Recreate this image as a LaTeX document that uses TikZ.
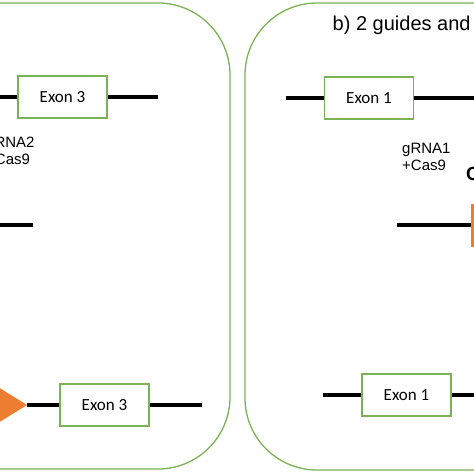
\documentclass[tikz,border=0pt]{standalone}
\usepackage{fontspec}
\setmainfont{Liberation Sans}
\newfontfamily\exonfont{Carlito}
\usetikzlibrary{shapes.geometric, arrows}
\definecolor{panelgreen}{RGB}{122,178,84}
\definecolor{siteorange}{RGB}{237,125,49}
\tikzstyle{panel} = [draw=panelgreen, line width=1.3pt, rounded corners=72pt]
\tikzstyle{exon} = [rectangle, minimum width=89pt, minimum height=42pt, text centered, draw=panelgreen, line width=1.4pt, fill=white, font=\exonfont\fontsize{17}{20}\selectfont]
\tikzstyle{dna} = [line width=4.5pt]
\tikzstyle{guide} = [align=left, anchor=north west, inner sep=0pt, font=\fontsize{15}{16.5}\selectfont]
\tikzstyle{site} = [fill=siteorange, draw=none]

\begin{document}
\begin{tikzpicture} [x=1pt, y=-1pt]
\clip (0,0) rectangle (474,474);
\fill [white] (0,0) rectangle (474,474);
\draw [panel] (-100,3) rectangle (230,469);
\draw [panel] (245,3) rectangle (580,470);

\node (title) [anchor=base west, inner sep=0pt, font=\fontsize{20}{24}\selectfont] at (332.5,30) {b) 2 guides and};

\node (ex3a) [exon] at (62.5,97) {Exon 3};
\node (ex3b) [exon] at (104.5,405) {Exon 3};
\node (ex1a) [exon] at (369,98) {Exon 1};
\node (ex1b) [exon] at (406.5,395) {Exon 1};
\node (g2) [guide] at (-14,137) {gRNA2\\+Cas9};
\node (g1) [guide] at (402,143) {gRNA1\\+Cas9};
\node (cut) [site, rectangle, minimum width=20pt, minimum height=43pt, anchor=west] at (471,225) {};
\node (c) [anchor=base west, inner sep=0pt, font=\bfseries\fontsize{19}{22}\selectfont] at (466,180) {C};

\coordinate (a1) at (-5,97);
\coordinate (a2) at (158,97);
\coordinate (m1) at (-5,225);
\coordinate (m2) at (33,225);
\coordinate (tip) at (27,405);
\coordinate (b2) at (202,405);
\coordinate (c1) at (286,98);
\coordinate (c2) at (480,98);
\coordinate (d1) at (397,225);
\coordinate (e1) at (323,395);
\coordinate (e2) at (480,395);

\fill [siteorange] (tip) -- ++(-42,-26) -- ++(0,52) -- cycle;

\draw [dna] (a1) -- (ex3a.west);
\draw [dna] (ex3a.east) -- (a2);
\draw [dna] (m1) -- (m2);
\draw [dna] (tip) -- (ex3b.west);
\draw [dna] (ex3b.east) -- (b2);
\draw [dna] (c1) -- (ex1a.west);
\draw [dna] (ex1a.east) -- (c2);
\draw [dna] (d1) -- (cut.west);
\draw [dna] (e1) -- (ex1b.west);
\draw [dna] (ex1b.east) -- (e2);
\end{tikzpicture}
\end{document}
